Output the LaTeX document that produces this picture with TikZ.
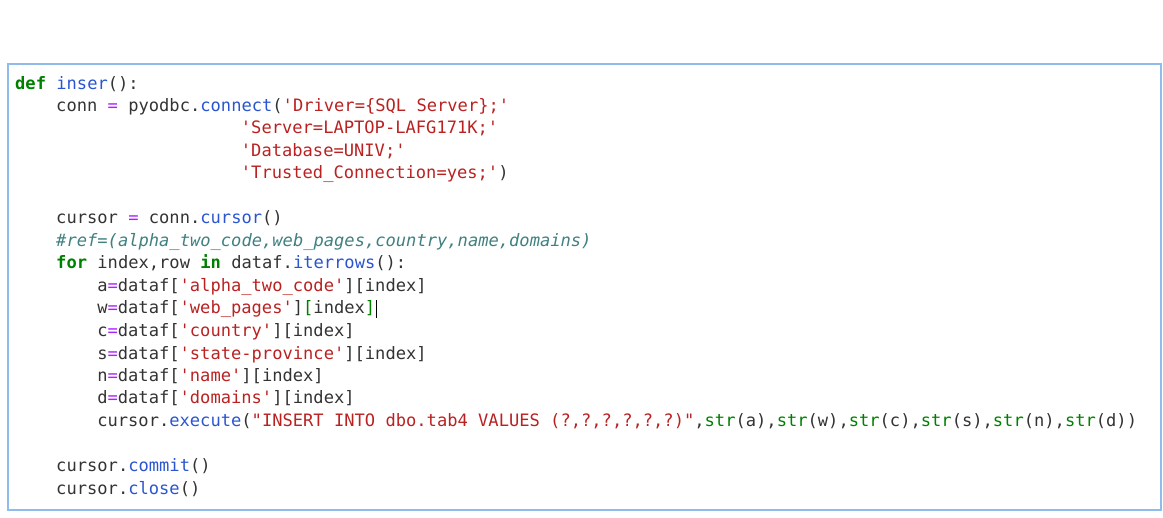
\documentclass[tikz,border=0pt]{standalone}
\usepackage{fontspec}
\newfontfamily\code{DejaVu Sans Mono}
\definecolor{kw}{HTML}{008000}
\definecolor{fn}{HTML}{2A55D0}
\definecolor{st}{HTML}{BA2121}
\definecolor{cm}{HTML}{408080}
\definecolor{op}{HTML}{AA22FF}
\definecolor{tx}{HTML}{333333}
\definecolor{frame}{HTML}{8FBCEB}
\newcommand\K[1]{\textcolor{kw}{\bfseries #1}}
\newcommand\F[1]{\textcolor{fn}{#1}}
\newcommand\Sg[1]{\textcolor{st}{#1}}
\newcommand\Pq{\textcolor{op}{=}}
\newcommand\Bi[1]{\textcolor{kw}{#1}}
\tikzset{ln/.style={anchor=base west,inner sep=0pt,text=tx,font=\code\fontsize{17.1}{20}\selectfont}}
\begin{document}
\begin{tikzpicture}[x=1pt,y=1pt]
\useasboundingbox (0,0) rectangle (1163,518);
\draw[frame,line width=1.2pt] (8,8) rectangle (1161,454);
\def\cw{10.26}
\newcommand\Ln[3]{\node[ln] (#1) at ({15+#2*\cw},{518-#3}) {#1x};}
\node[ln] (l1) at (15,{518-90}) {\K{def} \F{inser}():};
\node[ln] (l2) at ({15+4*\cw},{518-112}) {conn \Pq{} pyodbc.\F{connect}(\Sg{'Driver=\{SQL Server\};'}};
\node[ln] (l3) at ({15+22*\cw},{518-134}) {\Sg{'Server=LAPTOP-LAFG171K;'}};
\node[ln] (l4) at ({15+22*\cw},{518-157}) {\Sg{'Database=UNIV;'}};
\node[ln] (l5) at ({15+22*\cw},{518-179}) {\Sg{'Trusted\_Connection=yes;'})};
\node[ln] (l6) at ({15+4*\cw},{518-224}) {cursor \Pq{} conn.\F{cursor}()};
\node[ln] (l7) at ({15+4*\cw},{518-247}) {\textcolor{cm}{\itshape \#ref=(alpha\_two\_code,web\_pages,country,name,domains)}};
\node[ln] (l8) at ({15+4*\cw},{518-269}) {\K{for} index,row \K{in} dataf.\F{iterrows}():};
\node[ln] (l9) at ({15+8*\cw},{518-292}) {a\Pq{}dataf[\Sg{'alpha\_two\_code'}][index]};
\node[ln] (l10) at ({15+8*\cw},{518-314}) {w\Pq{}dataf[\Sg{'web\_pages'}]\Bi{[}index\Bi{]}};
\node[ln] (l11) at ({15+8*\cw},{518-337}) {c\Pq{}dataf[\Sg{'country'}][index]};
\node[ln] (l12) at ({15+8*\cw},{518-360}) {s\Pq{}dataf[\Sg{'state-province'}][index]};
\node[ln] (l13) at ({15+8*\cw},{518-382}) {n\Pq{}dataf[\Sg{'name'}][index]};
\node[ln] (l14) at ({15+8*\cw},{518-404}) {d\Pq{}dataf[\Sg{'domains'}][index]};
\node[ln] (l15) at ({15+8*\cw},{518-427}) {cursor.\F{execute}(\Sg{"INSERT INTO dbo.tab4 VALUES (?,?,?,?,?,?)"},\Bi{str}(a),\Bi{str}(w),\Bi{str}(c),\Bi{str}(s),\Bi{str}(n),\Bi{str}(d))};
\node[ln] (l16) at ({15+4*\cw},{518-472}) {cursor.\F{commit}()};
\node[ln] (l17) at ({15+4*\cw},{518-495}) {cursor.\F{close}()};
\draw[black,line width=1pt] ([xshift=1.5pt,yshift=-4pt]l10.base east) -- ++(0,18);
\end{tikzpicture}
\end{document}
